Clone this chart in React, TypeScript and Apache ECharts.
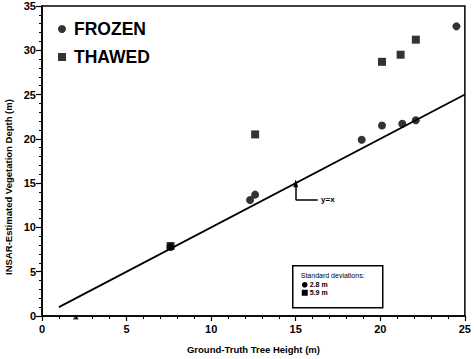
import React, { useEffect, useRef } from "react";
import * as echarts from "echarts";

const frozenX = [7.6, 12.3, 12.6, 18.9, 20.1, 21.3, 22.1, 24.5];
const frozenY = [7.8, 13.1, 13.7, 19.9, 21.5, 21.7, 22.1, 32.7];
const thawedX = [7.6, 12.6, 20.1, 21.2, 22.1];
const thawedY = [7.9, 20.5, 28.7, 29.5, 31.2];
const refLineX = [1, 25];
const refLineY = [1, 25];
const axisMarkX = [2];
const axisMarkY = [0];
const xTicks = [0, 5, 10, 15, 20, 25];
const yTicks = [0, 5, 10, 15, 20, 25, 30, 35];
const stdDevLabels = ["2.8 m", "5.9 m"];

const zip = (xs: number[], ys: number[]) => xs.map((x, i) => [x, ys[i]]);

export default function App() {
  const ref = useRef<HTMLDivElement>(null);
  useEffect(() => {
    if (!ref.current) return;
    const chart = echarts.init(ref.current, null, { renderer: "svg" });
    const font = "'Liberation Sans', Arial, sans-serif";
    chart.setOption({
      animation: false,
      backgroundColor: "#fff",
      grid: {
        left: 42,
        right: 7,
        top: 6,
        bottom: 35,
        show: true,
        borderColor: "#000",
        borderWidth: 1.5,
      },
      legend: {
        orient: "vertical",
        left: 53,
        top: 15,
        itemGap: 10,
        itemWidth: 8,
        itemHeight: 8,
        data: [
          { name: "FROZEN", icon: "circle" },
          { name: "THAWED", icon: "rect" },
        ],
        textStyle: {
          color: "#000",
          fontFamily: font,
          fontWeight: "bold",
          fontSize: 17.5,
          padding: [0, 0, 0, 3],
        },
      },
      xAxis: {
        type: "value",
        min: 0,
        max: 25,
        interval: 5,
        name: "Ground-Truth Tree Height (m)",
        nameLocation: "middle",
        nameGap: 28,
        nameTextStyle: { color: "#000", fontFamily: font, fontWeight: "bold", fontSize: 9.5 },
        axisLine: { lineStyle: { color: "#000", width: 1.5 } },
        axisTick: { show: true, inside: false, length: 5, lineStyle: { color: "#000", width: 1.2 } },
        minorTick: { show: true, splitNumber: 5, length: 3, lineStyle: { color: "#000", width: 1 } },
        splitLine: { show: false },
        axisLabel: {
          color: "#000",
          fontFamily: font,
          fontWeight: "bold",
          fontSize: 11,
          margin: 7,
          customValues: xTicks,
        },
      },
      yAxis: {
        type: "value",
        min: 0,
        max: 35,
        interval: 5,
        axisLine: { show: true, lineStyle: { color: "#000", width: 1.5 } },
        axisTick: { show: true, inside: false, length: 6, lineStyle: { color: "#000", width: 1.2 } },
        minorTick: { show: true, splitNumber: 5, length: 3, lineStyle: { color: "#000", width: 1 } },
        splitLine: { show: false },
        axisLabel: {
          color: "#000",
          fontFamily: font,
          fontWeight: "bold",
          fontSize: 11,
          margin: 6,
          customValues: yTicks,
        },
      },
      series: [
        {
          name: "y=x",
          type: "line",
          data: zip(refLineX, refLineY),
          symbol: "none",
          lineStyle: { color: "#000", width: 1.8 },
          silent: true,
          markLine: {
            silent: true,
            symbol: ["none", "none"],
            label: { show: false },
            lineStyle: { color: "#000", width: 1.5, type: "solid" },
            data: [
              [
                { coord: [15, 13.1], symbol: "none" },
                { coord: [15, 15], symbol: "triangle", symbolSize: [5, 8] },
              ],
              [
                { coord: [15, 13.1] },
                { coord: [16.3, 13.1] },
              ],
            ],
          },
          markPoint: {
            silent: true,
            symbol: "circle",
            symbolSize: 0,
            data: [
              {
                coord: [16.5, 13.1],
                label: {
                  show: true,
                  position: "right",
                  distance: 0,
                  formatter: "y=x",
                  color: "#000",
                  fontFamily: font,
                  fontWeight: "bold",
                  fontSize: 8,
                },
              },
            ],
          },
        },
        {
          name: "FROZEN",
          type: "scatter",
          data: zip(frozenX, frozenY),
          symbol: "circle",
          symbolSize: 8,
          itemStyle: { color: "#000" },
        },
        {
          name: "THAWED",
          type: "scatter",
          data: zip(thawedX, thawedY),
          symbol: "rect",
          symbolSize: 8,
          itemStyle: { color: "#000" },
        },
        {
          name: "axisMark",
          type: "scatter",
          data: zip(axisMarkX, axisMarkY),
          symbol: "triangle",
          symbolSize: [6, 5],
          symbolOffset: [0, 1],
          clip: false,
          itemStyle: { color: "#000" },
        },
      ],
      graphic: [
        {
          type: "text",
          x: 8,
          y: 187,
          rotation: Math.PI / 2,
          style: {
            text: "INSAR-Estimated Vegetation Depth (m)",
            fill: "#000",
            font: `bold 9.5px ${font}`,
            align: "center",
            verticalAlign: "middle",
          },
        },
        {
          type: "group",
          left: 292,
          top: 265,
          children: [
            {
              type: "rect",
              shape: { x: 0, y: 0, width: 90, height: 42 },
              style: { fill: "#fff", stroke: "#000", lineWidth: 1.5 },
            },
            {
              type: "text",
              x: 8,
              y: 6,
              style: { text: "Standard deviations:", fill: "#000", font: `7px ${font}` },
            },
            {
              type: "circle",
              shape: { cx: 12, cy: 19, r: 2.8 },
              style: { fill: "#000" },
            },
            {
              type: "text",
              x: 17,
              y: 15.5,
              style: { text: stdDevLabels[0], fill: "#000", font: `bold 7px ${font}` },
            },
            {
              type: "rect",
              shape: { x: 9, y: 24, width: 6, height: 6 },
              style: { fill: "#000" },
            },
            {
              type: "text",
              x: 17,
              y: 23.5,
              style: { text: stdDevLabels[1], fill: "#000", font: `bold 7px ${font}` },
            },
          ],
        },
      ],
    });
    return () => chart.dispose();
  }, []);
  return <div ref={ref} style={{ width: 474, height: 359, position: "absolute", left: 0, top: 0 }} />;
}
